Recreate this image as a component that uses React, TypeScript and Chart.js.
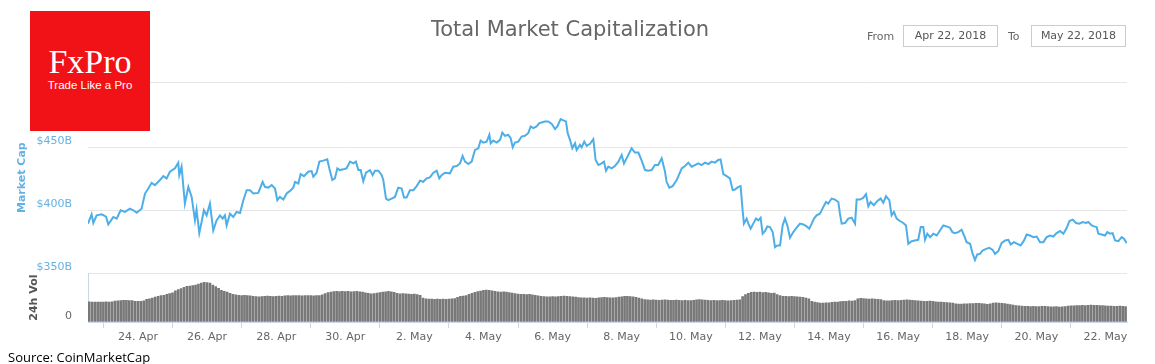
import React, { useEffect, useRef } from 'react';
import { Chart, registerables } from 'chart.js';

Chart.register(...registerables);

// ---- time axis: hours since 22 Apr 2018 00:00 ----
const xMinHour = 13.3;
const xMaxHour = 735;
const xTickHours = [48, 96, 144, 192, 240, 288, 336, 384, 432, 480, 528, 576, 624, 672, 720];
const xTickLabels = ['24. Apr', '26. Apr', '28. Apr', '30. Apr', '2. May', '4. May', '6. May', '8. May',
  '10. May', '12. May', '14. May', '16. May', '18. May', '20. May', '22. May'];

// ---- market capitalization ($B) ----
const capHours = [
  13.3, 15.8, 17.0, 19.3, 22.8, 25.8, 27.4, 30.9, 33.2, 36.0,
  39.0, 42.4, 44.8, 47.1, 50.5, 52.9, 55.2, 57.5, 59.8, 63.3,
  65.6, 67.9, 70.2, 73.7, 76.0, 76.7, 78.3, 80.6, 83.0, 85.3,
  87.6, 88.7, 90.6, 92.2, 93.8, 95.7, 98.0, 100.3, 102.6, 105.0,
  106.8, 108.4, 109.6, 111.9, 114.2, 116.5, 118.9, 121.2, 123.5, 125.8,
  128.1, 131.6, 134.6, 136.2, 138.5, 140.9, 143.2, 144.8, 146.6, 149.0,
  151.3, 153.6, 155.9, 157.1, 159.4, 161.0, 163.3, 166.3, 168.6, 169.8,
  172.1, 174.0, 176.7, 179.5, 180.9, 183.0, 184.8, 186.5, 188.3, 190.6,
  192.9, 195.3, 197.6, 199.4, 201.1, 202.7, 204.5, 206.4, 209.2, 211.0,
  212.6, 215.0, 217.3, 218.4, 220.3, 221.9, 224.2, 226.5, 228.8, 231.2,
  232.8, 234.6, 236.9, 239.3, 241.6, 243.9, 246.2, 248.5, 250.8, 253.2,
  255.5, 257.3, 258.9, 261.2,
  264.7, 267.0, 269.4, 271.7, 273.5, 275.2, 277.5, 279.8, 282.1, 284.4,
  286.0, 287.9, 290.2, 292.1, 293.0, 294.8, 297.2, 299.5, 301.1, 302.9,
  305.2, 306.9, 308.3, 309.9, 312.2, 314.5, 316.8, 319.1, 320.8, 322.6,
  324.9, 326.8, 328.4, 330.7, 333.0, 335.4, 337.7, 339.3, 341.6, 343.5,
  345.3, 346.5, 348.1, 349.7, 351.6, 352.7, 355.0, 356.2, 358.0, 359.7,
  362.0, 364.3, 365.9, 367.8, 370.1, 371.7, 373.1, 374.7, 377.0, 379.3,
  381.7, 384.0, 385.6, 387.4, 390.9, 393.2, 395.6, 397.9, 400.2, 402.5,
  404.8, 407.1, 409.4, 411.8, 414.1, 415.2, 417.1, 419.4, 422.2, 424.0,
  425.7, 428.0, 430.3, 432.6, 434.9, 437.2, 439.5, 441.9, 444.2, 446.5,
  448.8, 451.1, 452.7, 454.6, 456.9, 459.2, 461.1, 462.7, 465.0, 466.6,
  468.0, 468.9, 470.8, 472.0, 473.6, 475.4, 477.3, 478.9, 480.5, 481.9,
  483.5, 485.2, 487.0, 488.9, 490.5, 492.1, 494.0, 495.8, 497.4, 499.1,
  500.9, 503.2, 505.5,
  507.9, 510.2, 512.5, 514.3, 516.0, 517.6, 519.4, 521.7, 524.1, 525.9,
  527.5, 529.8, 532.2, 534.5, 535.6, 536.8, 539.1, 541.4, 543.7, 546.1,
  547.2, 549.5, 551.8, 553.7, 555.3, 556.9, 559.2, 561.6, 563.9, 565.7,
  567.6, 569.9, 571.5, 573.1, 575.0, 577.3, 579.6, 581.5, 583.1, 585.4,
  587.7, 590.0, 591.7, 593.5, 594.7, 596.3, 598.2, 600.5, 602.8, 605.1,
  607.4, 609.7, 612.0, 613.7, 615.5, 617.8, 620.1, 621.8, 623.6, 626.0,
  627.8, 629.4, 631.0, 632.9, 634.7, 637.1, 639.4, 641.7, 643.3, 645.6,
  647.9, 650.3, 652.6, 654.2, 656.5, 658.8, 661.1, 663.5, 665.3, 667.6,
  670.0, 672.3, 674.6, 676.9, 679.2, 681.5, 683.8, 686.1, 688.5, 690.8,
  693.1, 695.0, 697.3, 699.6, 701.9, 704.2, 706.5, 708.1, 710.5, 712.1,
  713.9, 715.1, 717.4, 719.7, 721.3, 723.2, 725.0, 726.7, 729.0, 731.3,
  732.9, 734.8,
];

const capValues = [
  389.4, 396.8, 389.9, 396.0, 396.8, 395.0, 388.8, 394.7, 393.4, 400.0,
  398.7, 401.3, 400.0, 398.1, 401.3, 413.3, 417.3, 421.8, 420.0, 424.0,
  427.1, 425.3, 430.6, 433.3, 437.8, 427.9, 434.6, 405.3, 418.6, 410.6,
  392.0, 400.5, 381.9, 390.7, 400.0, 396.0, 405.3, 384.0, 392.0, 396.0,
  393.4, 396.0, 388.0, 397.3, 394.7, 398.7, 397.9, 408.0, 416.0, 416.0,
  413.3, 413.8, 422.6, 418.6, 418.0, 420.0, 417.3, 408.0, 410.6, 408.5,
  413.3, 415.4, 418.0, 422.6, 421.3, 428.7, 427.1, 430.6, 431.1, 426.6,
  429.8, 438.6, 439.4, 440.4, 433.3, 424.0, 425.3, 433.3, 431.9, 432.5,
  433.3, 438.6, 437.2, 438.6, 431.9, 431.9, 423.1, 429.8, 431.9, 427.9,
  431.4, 431.4, 427.9, 424.0, 409.3, 408.0, 409.3, 410.6, 418.0, 417.3,
  410.1, 410.1, 416.0, 416.0, 419.2, 423.4, 422.6, 425.3, 426.1, 429.8,
  431.4, 425.3, 427.9, 429.8,
  429.3, 434.6, 435.1, 437.2, 443.1, 438.6, 436.7, 438.6, 447.9, 449.2,
  455.3, 453.7, 454.5, 459.9, 453.2, 455.3, 453.7, 455.9, 461.7, 459.1,
  459.9, 457.2, 450.0, 453.7, 454.5, 458.5, 459.1, 461.2, 466.5, 465.2,
  466.5, 469.2, 469.7, 470.5, 470.5, 468.6, 464.4, 466.5, 472.4, 471.3,
  470.5, 461.2, 455.9, 449.2, 453.2, 447.9, 451.9, 450.0, 454.5, 451.1,
  452.7, 456.4, 439.9, 435.9, 437.2, 438.6, 431.4, 434.6, 433.3, 435.1,
  438.6, 443.9, 437.2, 441.2, 449.2, 445.8, 445.8, 439.4, 431.9, 431.4,
  431.9, 435.9, 435.9, 441.2, 430.6, 422.6, 418.0, 419.2, 424.0, 428.7,
  433.3, 435.1, 437.8, 434.6, 435.9, 437.2, 435.9, 437.8, 436.7, 438.6,
  437.8, 439.9, 440.4, 428.7, 427.1, 425.3, 416.0, 416.5, 418.6, 419.2,
  400.0, 389.4, 393.4, 389.4, 385.4, 389.4, 393.4, 392.0, 394.1, 381.4,
  383.5, 387.2, 386.7, 382.7, 370.7, 372.1, 372.1, 388.0, 393.4, 388.0,
  378.2, 382.7, 386.2,
  389.4, 388.8, 387.2, 385.4, 389.4, 393.4, 396.0, 397.3, 402.7, 406.6,
  405.3, 409.3, 408.5, 406.6, 397.3, 389.4, 389.9, 393.4, 394.1, 389.4,
  408.5, 408.5, 409.8, 412.8, 403.2, 406.6, 404.0, 407.4, 409.3, 405.9,
  411.2, 408.0, 396.0, 398.7, 393.4, 391.5, 389.9, 388.0, 373.4, 375.5,
  376.1, 376.6, 386.7, 386.7, 376.6, 381.4, 378.7, 381.4, 380.0, 384.0,
  388.0, 387.2, 386.2, 382.7, 381.9, 382.7, 384.6, 380.0, 374.7, 373.4,
  365.4, 360.6, 365.0, 365.4, 368.1, 369.4, 370.2, 368.6, 365.4, 367.5,
  373.9, 376.1, 376.6, 372.9, 374.7, 373.4, 372.1, 376.1, 380.8, 380.0,
  378.7, 379.2, 374.7, 374.7, 378.7, 380.0, 379.2, 381.9, 383.5, 381.4,
  385.9, 391.5, 392.6, 389.9, 389.4, 390.7, 389.9, 390.7, 388.0, 387.2,
  386.7, 381.4, 380.8, 380.0, 382.7, 381.4, 381.9, 376.1, 375.5, 378.7,
  377.4, 373.9,
];

// ---- 24h volume ($B), one bar every 2 hours ----
const volStartHour = 14;
const volStepHours = 2;
const volValues = [
  16.5, 16.4, 16.4, 16.3, 16.4, 16.4, 16.5, 16.4, 16.6,
  17.2, 17.4, 17.6, 17.7, 17.7, 17.6, 17.5,
  17.0, 16.9, 17.0, 17.4,
  18.6, 19.1, 19.6,
  20.4, 21.0, 21.6, 22.0,
  22.8, 23.4, 24.0,
  25.6, 26.6, 27.4,
  28.4, 29.2, 29.6, 30.0, 30.4,
  31.2, 32.0, 32.6, 32.4, 32.0,
  30.4, 29.0, 27.6,
  26.0, 25.2, 24.6,
  23.6, 22.8, 22.4,
  22.0, 21.8, 22.0, 21.6, 21.4,
  21.0, 20.8, 20.6, 20.8, 21.0,
  21.2, 21.0, 20.8, 21.0, 21.2, 21.0,
  21.4, 21.6, 21.4, 21.6, 21.8, 21.6, 21.4, 21.6, 21.6, 21.8, 21.4, 21.6, 21.6,
  22.4, 23.4, 24.2, 24.6,
  25.0, 25.2, 25.0, 25.2, 25.0, 25.2, 24.8, 25.0, 25.2, 24.8, 24.6, 24.0,
  23.6, 23.2, 23.4, 23.8, 24.2, 24.6, 24.8,
  25.2, 24.8, 24.4,
  23.6, 23.2, 23.4, 23.2, 23.0, 22.8, 23.0, 22.6, 22.0,
  19.6, 19.0, 18.8, 18.8, 18.6, 18.8, 18.6, 18.8, 18.6, 18.8, 19.0, 19.2,
  20.2, 21.0, 21.2, 21.6,
  22.8, 23.6, 24.4, 25.0, 25.4,
  26.0, 26.2, 26.0, 25.6, 25.2,
  24.8, 24.6, 24.8, 24.6, 24.2, 23.8,
  23.4, 23.0, 22.8, 22.8, 22.6, 22.8, 22.4, 22.0,
  21.4, 21.0, 20.8, 20.6, 20.6, 20.8, 20.6,
  20.8, 21.0, 21.2, 21.0, 20.8, 20.6, 20.4,
  20.0, 19.8, 19.8, 19.6, 19.8, 19.6, 19.4, 19.8,
  20.0, 20.2, 20.0, 19.8, 19.8, 20.0, 20.4, 20.6,
  21.0, 21.0, 20.8, 20.6, 20.2, 19.6,
  19.0, 18.4, 18.2, 18.0, 18.2, 18.0, 17.8, 18.0, 18.2, 18.0,
  17.8, 17.8, 18.0, 17.8, 17.6, 17.8, 17.6, 17.6, 17.8, 18.2,
  18.4, 18.2, 18.0, 17.8, 17.6, 17.8, 17.6, 17.6, 17.8, 17.6,
  17.4, 17.6, 17.8, 18.0, 18.2,
  20.8, 22.6, 23.6,
  24.4, 24.6, 24.4, 24.6, 24.2, 24.4, 24.0, 23.6, 23.8, 22.6,
  21.6, 21.0, 21.0, 20.8, 21.0, 20.8, 20.6, 20.4, 20.2, 19.6, 19.0,
  17.0, 16.4, 16.0, 15.6, 15.6, 15.8, 15.8,
  16.2, 16.4, 16.4, 16.8, 17.0, 17.0, 17.4, 17.2, 17.6,
  19.0, 19.4, 19.2, 19.0, 18.8, 19.0, 18.8, 18.6, 18.4,
  17.6, 17.4, 17.4, 17.6, 17.8, 17.6, 17.8, 18.0, 18.2, 18.0, 17.8, 17.6, 17.4, 17.2, 17.0, 17.0, 17.2, 17.0,
  16.6, 16.4, 16.4, 16.2, 16.0, 15.8, 15.6,
  15.0, 14.8, 14.8, 15.0, 15.0, 15.2, 15.2, 15.4, 15.4, 15.2, 15.0, 14.6,
  15.0, 15.6, 15.8, 15.6, 15.4, 15.2, 14.8, 14.4,
  13.8, 13.4, 13.2, 13.0, 12.8, 12.8, 12.6, 12.8, 12.6, 12.6, 12.8, 12.8, 12.6, 12.4, 12.4, 12.6, 12.2,
  12.4, 12.6, 13.0, 13.2, 13.2, 13.4, 13.4, 13.6, 13.4, 13.6, 13.8, 13.6, 13.6, 13.4, 13.4, 13.2, 13.0, 13.0, 12.8, 12.8, 13.0, 12.8, 12.6,
];

// ---- axes ----
const capAxisMin = 350;
const capAxisMax = 501.8;
const capTickValues = [350, 400, 450];
const capTickLabels = ['$350B', '$400B', '$450B'];
const volAxisMax = 40;
const volTickLabels = ['0'];

const FONT = "'DejaVu Sans', Verdana, sans-serif";
const LINE_COLOR = '#4eaee7';
const BLUE_TEXT = '#66b1e4';
const GRAY_TEXT = '#666666';
const GRID = '#e6e6e6';
const AXIS = '#ccd6eb';

export default function App() {
  const canvasRef = useRef<HTMLCanvasElement | null>(null);

  useEffect(() => {
    const canvas = canvasRef.current;
    if (!canvas) return;
    const chart = new Chart(canvas, {
      type: 'line',
      data: {
        datasets: [
          {
            type: 'line',
            label: 'Market Cap',
            data: capHours.map((h, i) => ({ x: h, y: capValues[i] })),
            xAxisID: 'x',
            yAxisID: 'y',
            borderColor: LINE_COLOR,
            borderWidth: 2,
            pointRadius: 0,
            tension: 0,
            fill: false,
            order: 0,
          },
          {
            type: 'bar',
            label: '24h Vol',
            data: volValues.map((v, i) => ({ x: volStartHour + i * volStepHours, y: v })),
            xAxisID: 'x',
            yAxisID: 'yVol',
            backgroundColor: '#787878',
            borderWidth: 0,
            barThickness: 2,
            order: 1,
          },
        ],
      } as any,
      options: {
        animation: false,
        responsive: false,
        devicePixelRatio: 1,
        layout: { padding: { top: 82, right: 28, bottom: 0, left: 0 } },
        plugins: { legend: { display: false }, tooltip: { enabled: false }, title: { display: false } },
        scales: {
          x: {
            type: 'linear',
            position: 'bottom',
            min: xMinHour,
            max: xMaxHour,
            offset: false,
            afterBuildTicks: (s: any) => { s.ticks = xTickHours.map((v) => ({ value: v })); },
            afterFit: (s: any) => { s.height = 42; },
            ticks: {
              autoSkip: false,
              maxRotation: 0,
              minRotation: 0,
              padding: 3,
              color: GRAY_TEXT,
              font: { family: FONT, size: 11 },
              callback: (_v: any, i: number) => xTickLabels[i],
            },
            grid: { drawOnChartArea: false, drawTicks: true, tickLength: 6, color: AXIS },
            border: { display: true, color: AXIS },
          },
          yVol: {
            type: 'linear',
            position: 'left',
            stack: 'panes',
            stackWeight: 48.7,
            min: 0,
            max: volAxisMax,
            offset: false,
            afterBuildTicks: (s: any) => { s.ticks = [0, volAxisMax].map((v) => ({ value: v })); },
            afterFit: (s: any) => { s.width = 88; },
            ticks: {
              autoSkip: false,
              padding: 16,
              labelOffset: -6,
              color: GRAY_TEXT,
              font: { family: FONT, size: 11 },
              callback: (_v: any, i: number) => volTickLabels[i] ?? '',
            },
            grid: {
              drawTicks: false,
              color: (ctx: any) => (ctx.tick && ctx.tick.value === 0 ? 'rgba(0,0,0,0)' : GRID),
            },
            border: { display: true, color: AXIS },
            title: {
              display: true,
              text: '24h Vol',
              color: '#555555',
              font: { family: FONT, size: 11, weight: 'bold' },
              padding: { top: 27.9, bottom: 0 },
            },
          },
          y: {
            type: 'linear',
            position: 'left',
            stack: 'panes',
            stackWeight: 191.3,
            min: capAxisMin,
            max: capAxisMax,
            afterBuildTicks: (s: any) => { s.ticks = [...capTickValues, capAxisMax].map((v) => ({ value: v })); },
            afterFit: (s: any) => { s.width = 88; },
            ticks: {
              autoSkip: false,
              padding: 16,
              labelOffset: -6,
              color: BLUE_TEXT,
              font: { family: FONT, size: 11 },
              callback: (_v: any, i: number) => capTickLabels[i] ?? '',
            },
            grid: { color: GRID, drawTicks: false },
            border: { display: false },
            title: {
              display: true,
              text: 'Market Cap',
              color: BLUE_TEXT,
              font: { family: FONT, size: 11, weight: 'bold' },
              padding: { top: 15.4, bottom: 0 },
            },
          },
        },
      } as any,
    });
    return () => chart.destroy();
  }, []);

  const abs = (s: React.CSSProperties): React.CSSProperties => ({ position: 'absolute', whiteSpace: 'nowrap', lineHeight: 1, ...s });

  return (
    <div style={{ position: 'fixed', left: 0, top: 0, width: 1155, height: 364, background: '#ffffff', overflow: 'hidden' }}>
      <canvas ref={canvasRef} width={1155} height={364} style={{ position: 'absolute', left: 0, top: 0, width: 1155, height: 364 }} />

      {/* logo */}
      <div style={{ position: 'absolute', left: 30, top: 11, width: 120, height: 120, background: '#f11217' }}>
        <div style={abs({ left: 0, top: 33.5, width: 120, textAlign: 'center', fontFamily: "'Liberation Serif', serif", fontSize: 34, color: '#ffffff' })}>FxPro</div>
        <div style={abs({ left: 0, top: 69, width: 120, textAlign: 'center', fontFamily: "'Liberation Sans', Arial, sans-serif", fontSize: 11.5, color: '#ffffff' })}>Trade Like a Pro</div>
      </div>

      {/* title */}
      <div style={abs({ left: 370, top: 19, width: 400, textAlign: 'center', fontFamily: FONT, fontSize: 21, color: '#666666' })}>Total Market Capitalization</div>

      {/* range selector */}
      <div style={abs({ left: 867, top: 30.7, fontFamily: FONT, fontSize: 11, color: '#666666' })}>From</div>
      <div style={{ position: 'absolute', left: 903, top: 25, width: 95, height: 22, boxSizing: 'border-box', border: '1px solid #cccccc', textAlign: 'center', lineHeight: '20px', fontFamily: FONT, fontSize: 11, color: '#555555', whiteSpace: 'nowrap' }}>Apr 22, 2018</div>
      <div style={abs({ left: 1008, top: 30.7, fontFamily: FONT, fontSize: 11, color: '#666666' })}>To</div>
      <div style={{ position: 'absolute', left: 1031, top: 25, width: 95, height: 22, boxSizing: 'border-box', border: '1px solid #cccccc', textAlign: 'center', lineHeight: '20px', fontFamily: FONT, fontSize: 11, color: '#555555', whiteSpace: 'nowrap' }}>May 22, 2018</div>

      {/* source */}
      <div style={abs({ left: 8, top: 351, fontFamily: "'Open Sans', sans-serif", fontSize: 13, color: '#000000' })}>Source: CoinMarketCap</div>
    </div>
  );
}
